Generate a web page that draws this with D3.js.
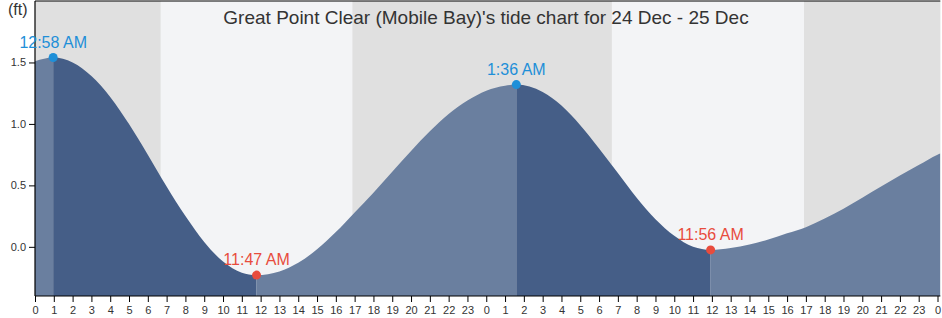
<!DOCTYPE html>
<html>
<head>
<meta charset="utf-8">
<script src="https://cdn.jsdelivr.net/npm/d3@7"></script>
<style>
  html, body { margin: 0; padding: 0; background: #ffffff; }
  svg { display: block; font-family: "Liberation Sans", Arial, sans-serif; }
</style>
</head>
<body>
<svg id="chart" width="942" height="318"></svg>
<script>
// ---- data ----
const titleText = "Great Point Clear (Mobile Bay)'s tide chart for 24 Dec - 25 Dec";
const unitLabel = "(ft)";
// hours since 24 Dec 00:00
const tideHours = [0, 0.967, 2, 3, 4, 5, 6, 7, 8, 9, 10, 11, 11.783, 13, 14, 15, 16, 17, 18, 19, 20, 21, 22, 23, 24, 25, 25.6, 27, 28, 29, 30, 31, 32, 33, 34, 35, 35.933, 37, 38, 39, 40, 41, 42, 43, 44, 45, 46, 47, 48, 48.15];
const tideHeights = [1.51, 1.54, 1.50, 1.39, 1.22, 1.00, 0.75, 0.49, 0.25, 0.04, -0.12, -0.21, -0.23, -0.20, -0.13, -0.02, 0.12, 0.28, 0.44, 0.61, 0.78, 0.94, 1.08, 1.19, 1.27, 1.31, 1.32, 1.26, 1.15, 0.99, 0.80, 0.60, 0.40, 0.225, 0.09, 0.00, -0.025, -0.01, 0.02, 0.06, 0.11, 0.16, 0.23, 0.31, 0.40, 0.49, 0.58, 0.665, 0.75, 0.76];
const extremeHours = [0.967, 11.783, 25.6, 35.933];
const extremeHeights = [1.54, -0.23, 1.32, -0.025];
const extremeLabels = ["12:58 AM", "11:47 AM", "1:36 AM", "11:56 AM"];
const extremeTypes = ["high", "low", "high", "low"];
const nightStarts = [0, 16.88, 40.9];
const nightEnds = [6.68, 30.68, 48.15];
const xTickHours = d3.range(0, 49, 1);
const xTickLabels = xTickHours.map(h => String(h % 24));
const yTickValues = [0, 0.5, 1.0, 1.5];
const yTickLabels = ["0.0", "0.5", "1.0", "1.5"];

// ---- layout ----
const W = 942, H = 318;
const m = { left: 35, top: 1, bottom: 22 };
const svg = d3.select("#chart");
const xEnd = 48.15;
const x = d3.scaleLinear().domain([0, 48]).range([m.left, 937.5]);
const y = d3.scaleLinear().domain([-0.4, 2.0]).range([H - m.bottom, m.top]);

const colors = {
  night: "#e0e0e0", day: "#f3f4f6",
  rising: "#6a7f9f", falling: "#455e87",
  high: "#1e8fd8", low: "#e84c3d", text: "#333333"
};

// day background
svg.append("rect")
  .attr("x", x(0)).attr("y", y(2.0))
  .attr("width", x(xEnd) - x(0)).attr("height", y(-0.4) - y(2.0))
  .attr("fill", colors.day);
// night bands
svg.selectAll("rect.night").data(nightStarts.map((s, i) => [s, nightEnds[i]]))
  .enter().append("rect").attr("class", "night")
  .attr("x", d => x(d[0])).attr("y", y(2.0))
  .attr("width", d => x(d[1]) - x(d[0])).attr("height", y(-0.4) - y(2.0))
  .attr("fill", colors.night);

// tide area, colored by segment between extrema
const pts = tideHours.map((h, i) => [h, tideHeights[i]]);
const area = d3.area()
  .x(d => x(d[0])).y0(y(-0.4)).y1(d => y(d[1]))
  .curve(d3.curveMonotoneX);
const bounds = [0, ...extremeHours, xEnd];
const defs = svg.append("defs");
for (let i = 0; i < bounds.length - 1; i++) {
  defs.append("clipPath").attr("id", "seg" + i)
    .append("rect")
    .attr("x", x(bounds[i])).attr("y", 0)
    .attr("width", x(bounds[i + 1]) - x(bounds[i])).attr("height", H);
  // a segment that ends at a high is rising; the last one follows the last low
  let rising;
  if (i < extremeTypes.length) rising = extremeTypes[i] === "high";
  else rising = extremeTypes[extremeTypes.length - 1] === "low";
  svg.append("path")
    .datum(pts)
    .attr("clip-path", "url(#seg" + i + ")")
    .attr("d", area)
    .attr("fill", rising ? colors.rising : colors.falling);
}

// axes
const xAxis = d3.axisBottom(x).tickValues(xTickHours)
  .tickFormat((d, i) => xTickLabels[i]).tickSize(6).tickPadding(4);
const gx = svg.append("g").attr("transform", `translate(0,${y(-0.4)})`).call(xAxis);
const yAxis = d3.axisLeft(y).tickValues(yTickValues)
  .tickFormat((d, i) => yTickLabels[i]).tickSize(6).tickPadding(3);
const gy = svg.append("g").attr("transform", `translate(${x(0)},0)`).call(yAxis);
[gx, gy].forEach(g => {
  g.select(".domain").attr("stroke", "#000").attr("stroke-width", 1.2);
  g.selectAll(".tick line").attr("stroke", "#000");
  g.selectAll(".tick text").attr("fill", colors.text).style("font-size", "11px")
    .style("font-family", "'Liberation Sans', Arial, sans-serif");
});
gx.select(".domain").attr("d", `M${x(0)},0H${x(xEnd)}`);
gy.select(".domain").attr("d", `M0,${y(2.0)}V${y(-0.4)}`);
// top frame line
svg.append("line").attr("x1", x(0)).attr("x2", x(xEnd))
  .attr("y1", y(2.0)).attr("y2", y(2.0)).attr("stroke", "#000").attr("stroke-width", 1);

// extreme markers
extremeHours.forEach((h, i) => {
  const c = extremeTypes[i] === "high" ? colors.high : colors.low;
  svg.append("circle").attr("cx", x(h)).attr("cy", y(extremeHeights[i]))
    .attr("r", 4.5).attr("fill", c);
  svg.append("text").attr("x", x(h)).attr("y", y(extremeHeights[i]) - 10)
    .attr("text-anchor", "middle").attr("fill", c)
    .style("font-size", "16px").text(extremeLabels[i]);
});

// title and unit
svg.append("text").attr("x", 486).attr("y", 24).attr("text-anchor", "middle")
  .attr("fill", colors.text).style("font-size", "19px").text(titleText);
svg.append("text").attr("x", 8).attr("y", 15).attr("fill", colors.text)
  .style("font-size", "16px").text(unitLabel);
</script>
</body>
</html>
